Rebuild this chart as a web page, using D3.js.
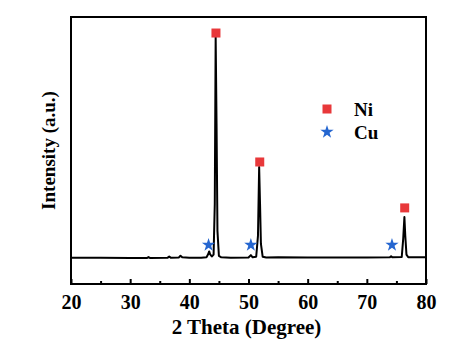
<!DOCTYPE html>
<html><head><meta charset="utf-8">
<script src="https://cdn.jsdelivr.net/npm/d3@7"></script>
<style>html,body{margin:0;padding:0;background:#fff;}svg{display:block;}</style>
</head><body>
<script>
const xTicks = [20,30,40,50,60,70,80];
const xMinorTicks = [25,35,45,55,65,75];
const profileX = [20,25,30,32.8,33.1,33.4,36.3,36.6,36.9,38.2,38.5,38.8,40,42,42.9,43.2,43.35,43.5,43.8,44.1,44.3,44.45,44.6,44.75,45,45.4,47,50,50.4,50.7,51.3,51.6,51.8,51.95,52.1,52.4,53,55,60,65,70,73.9,74.1,74.3,75.9,76.15,76.35,76.5,76.7,77,80];
const profileY = [98,98,97,97,101,97,98,103,98,99,106,100,98,98,100,112,122,112,103,110,300,925,600,200,105,100,98,99,108,100,102,180,438,300,150,102,99,100,99,99,99,100,104,100,101,170,251,180,110,100,100];
const niX = [44.5,51.9,76.4];
const niY = [940,457,285];
const cuX = [43.25,50.4,74.25];
const cuY = [146,146,146];
const legendLabels = ["Ni","Cu"];

const W=474,H=355;
const L=71,R=426,T=17,B=284;
const svg=d3.select("body").append("svg").attr("width",W).attr("height",H);
const x=d3.scaleLinear().domain([20,80]).range([L,R]);
const y=d3.scaleLinear().domain([0,1000]).range([B,T]);
const font="'Liberation Serif','Times New Roman',serif";

// curve
const pts=profileX.map((v,i)=>[v,profileY[i]]);
svg.append("path").datum(pts)
  .attr("d",d3.line().x(d=>x(d[0])).y(d=>y(d[1])))
  .attr("fill","none").attr("stroke","#000").attr("stroke-width",2).attr("stroke-linejoin","round");

// frame
svg.append("rect").attr("x",L).attr("y",T).attr("width",R-L).attr("height",B-T)
  .attr("fill","none").attr("stroke","#000").attr("stroke-width",2);

// x axis
const ax=svg.append("g").attr("transform",`translate(0,${B})`)
  .call(d3.axisBottom(x).tickValues(xTicks).tickSize(-5).tickFormat(d3.format("d")));
ax.select(".domain").remove();
ax.selectAll(".tick line").attr("stroke-width",2);
ax.selectAll(".tick text").attr("y",11).attr("font-family",font).attr("font-weight","bold").attr("font-size",20).attr("fill","#000");
const axm=svg.append("g").attr("transform",`translate(0,${B})`)
  .call(d3.axisBottom(x).tickValues(xMinorTicks).tickSize(-3).tickFormat(""));
axm.select(".domain").remove();
axm.selectAll(".tick line").attr("stroke-width",2);

// axis titles
svg.append("text").attr("x",(L+R)/2-2).attr("y",334).attr("text-anchor","middle")
  .attr("font-family",font).attr("font-weight","bold").attr("font-size",21).text("2 Theta (Degree)");
svg.append("text").attr("transform",`translate(55,${(T+B)/2}) rotate(-90)`).attr("text-anchor","middle")
  .attr("font-family",font).attr("font-weight","bold").attr("font-size",19).text("Intensity (a.u.)");

// markers
const sq=9;
svg.selectAll(".ni").data(niX.map((v,i)=>[v,niY[i]])).enter().append("rect")
  .attr("x",d=>x(d[0])-sq/2).attr("y",d=>y(d[1])-sq/2).attr("width",sq).attr("height",sq).attr("fill","#e8383a");
const star=d3.symbol().type(d3.symbolStar).size(55);
svg.selectAll(".cu").data(cuX.map((v,i)=>[v,cuY[i]])).enter().append("path")
  .attr("d",star).attr("transform",d=>`translate(${x(d[0])},${y(d[1])})`).attr("fill","#2566d0");

// legend
const lg=svg.append("g");
lg.append("rect").attr("x",327-sq/2).attr("y",109-sq/2).attr("width",sq).attr("height",sq).attr("fill","#e8383a");
lg.append("path").attr("d",star).attr("transform","translate(327,132)").attr("fill","#2566d0");
lg.selectAll("text").data(legendLabels).enter().append("text")
  .attr("x",354).attr("y",(d,i)=>116+i*23).attr("font-family",font).attr("font-weight","bold").attr("font-size",19).text(d=>d);
</script>
</body></html>
